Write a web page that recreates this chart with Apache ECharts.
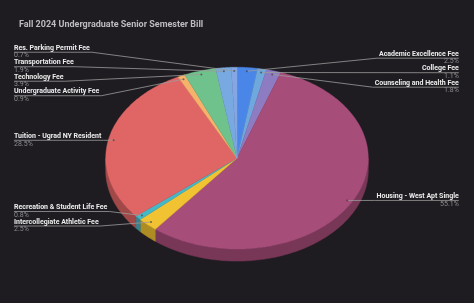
<!DOCTYPE html>
<html>
<head>
<meta charset="utf-8">
<script src="https://cdn.jsdelivr.net/npm/echarts@6/dist/echarts.min.js"></script>
<style>
html,body{margin:0;padding:0;background:#1e1c21;}
#c{width:474px;height:303px;}
</style>
</head>
<body>
<div id="c"></div>
<script>
const titleText = 'Fall 2024 Undergraduate Senior Semester Bill';
const categories = ['Academic Excellence Fee','College Fee','Counseling and Health Fee','Housing - West Apt Single','Intercollegiate Athletic Fee','Recreation & Student Life Fee','Tuition - Ugrad NY Resident','Undergraduate Activity Fee','Technology Fee','Transportation Fee','Res. Parking Permit Fee'];
const percents = [2.5, 1.1, 1.8, 55.1, 2.5, 0.8, 28.5, 0.9, 3.9, 1.9, 0.7];
const colors = ['#4a86e8','#6fa8dc','#8e7cc3','#a64d79','#f1c232','#45b8c8','#e06666','#f6b26b','#6fc28b','#78a9e0','#84a6e2'];

const total = percents.reduce((a, b) => a + b, 0);
const starts = [], ends = [];
let cum = 0;
percents.forEach(v => { starts.push(cum / total * Math.PI * 2); cum += v; ends.push(cum / total * Math.PI * 2); });

function geom(api) {
  const w = api.getWidth(), h = api.getHeight();
  return { cx: w * 0.5, cy: h * 0.522, rx: w * 0.277, ry: h * 0.30, depth: 12, w: w, h: h };
}
function pt(g, a, f) { f = f || 1; return [g.cx + g.rx * f * Math.sin(a), g.cy - g.ry * f * Math.cos(a)]; }
function darken(hex, k) {
  const c = echarts.color.parse(hex);
  return 'rgb(' + [0,1,2].map(i => Math.round(c[i] * k)).join(',') + ')';
}
function arcPts(g, a0, a1, dy) {
  const n = Math.max(2, Math.ceil((a1 - a0) / (Math.PI / 180)));
  const out = [];
  for (let k = 0; k <= n; k++) { const p = pt(g, a0 + (a1 - a0) * k / n); out.push([p[0], p[1] + (dy || 0)]); }
  return out;
}

const measureCtx = document.createElement('canvas').getContext('2d');
function textW(t, font) { measureCtx.font = font; return measureCtx.measureText(t).width; }

let layoutCache = null;
function labelLayout(g) {
  if (layoutCache) return layoutCache;
  const items = percents.map((v, i) => {
    const mid = (starts[i] + ends[i]) / 2;
    const a = pt(g, mid, 0.96);
    return { i: i, anchor: a, left: a[0] < g.cx, y: a[1] };
  });
  const gap = 14.5;
  [true, false].forEach(side => {
    const list = items.filter(it => it.left === side).sort((p, q) => p.anchor[1] - q.anchor[1]);
    let blocks = list.map(it => ({ items: [it], ideal: it.anchor[1] }));
    let changed = true;
    const place = b => { const m = b.items.reduce((s, it) => s + it.anchor[1], 0) / b.items.length; b.top = m - (b.items.length - 1) * gap / 2; };
    blocks.forEach(place);
    while (changed) {
      changed = false;
      for (let k = 0; k < blocks.length - 1; k++) {
        const a = blocks[k], b = blocks[k + 1];
        if (a.top + a.items.length * gap > b.top) {
          a.items = a.items.concat(b.items); place(a); blocks.splice(k + 1, 1); changed = true; break;
        }
      }
    }
    blocks.forEach(b => b.items.forEach((it, j) => { it.y = b.top + j * gap; }));
  });
  layoutCache = items;
  return items;
}

const seriesData = categories.map((c, i) => ({ name: c, value: percents[i] }));

function renderSide(params, api) {
  const i = params.dataIndex, g = geom(api);
  const a0 = Math.max(starts[i], Math.PI / 2), a1 = Math.min(ends[i], Math.PI * 1.5);
  if (a1 <= a0) return null;
  const top = arcPts(g, a0, a1, 0);
  const bot = arcPts(g, a0, a1, g.depth).reverse();
  const col = darken(colors[i], 0.72);
  return { type: 'polygon', shape: { points: top.concat(bot) }, style: { fill: col, stroke: col, lineWidth: 0.5 } };
}
function renderTop(params, api) {
  const i = params.dataIndex, g = geom(api);
  const pts = [[g.cx, g.cy]].concat(arcPts(g, starts[i], ends[i], 0));
  return { type: 'polygon', shape: { points: pts }, style: { fill: colors[i], stroke: colors[i], lineWidth: 0.4 } };
}
const nameFont = 'bold 7px Roboto';
function renderLabel(params, api) {
  const i = params.dataIndex, g = geom(api);
  const it = labelLayout(g).find(o => o.i === i);
  const uy = it.y;
  const name = categories[i];
  const pct = percents[i].toFixed(1) + '%';
  const tw = textW(name, nameFont);
  const children = [];
  let pts;
  if (it.left) {
    const x0 = g.w * 0.0295;
    pts = [[x0, uy], [x0 + tw + 2, uy], it.anchor];
    children.push({ type: 'text', style: { x: x0, y: uy - 4, text: name, fill: '#ececec', font: nameFont, align: 'left', verticalAlign: 'middle' } });
    children.push({ type: 'text', style: { x: x0, y: uy + 3.5, text: pct, fill: '#8c8c8c', font: '7px Roboto', align: 'left', verticalAlign: 'middle' } });
  } else {
    const x0 = g.w * 0.968;
    pts = [[x0, uy], [x0 - tw - 2, uy], it.anchor];
    children.push({ type: 'text', style: { x: x0, y: uy - 4, text: name, fill: '#ececec', font: nameFont, align: 'right', verticalAlign: 'middle' } });
    children.push({ type: 'text', style: { x: x0, y: uy + 3.5, text: pct, fill: '#8c8c8c', font: '7px Roboto', align: 'right', verticalAlign: 'middle' } });
  }
  children.unshift({ type: 'polyline', shape: { points: pts }, style: { stroke: '#9a9a9a', lineWidth: 0.8, fill: null } });
  children.push({ type: 'circle', shape: { cx: it.anchor[0], cy: it.anchor[1], r: 1 }, style: { fill: 'rgba(40,40,40,0.55)' } });
  return { type: 'group', children: children };
}

const chart = echarts.init(document.getElementById('c'), null, { renderer: 'canvas' });
chart.setOption({
  backgroundColor: '#1e1c21',
  animation: false,
  title: { text: titleText, left: 14, top: 15, textStyle: { fontSize: 9, fontWeight: 'bold', color: '#bdbcc0', fontFamily: 'Roboto' } },
  series: [
    { type: 'custom', coordinateSystem: 'none', z: 1, renderItem: renderSide, data: seriesData, silent: true },
    { type: 'custom', coordinateSystem: 'none', z: 2, renderItem: renderTop, data: seriesData, silent: true },
    { type: 'custom', coordinateSystem: 'none', z: 3, renderItem: renderLabel, data: seriesData, silent: true }
  ]
});
</script>
</body>
</html>
